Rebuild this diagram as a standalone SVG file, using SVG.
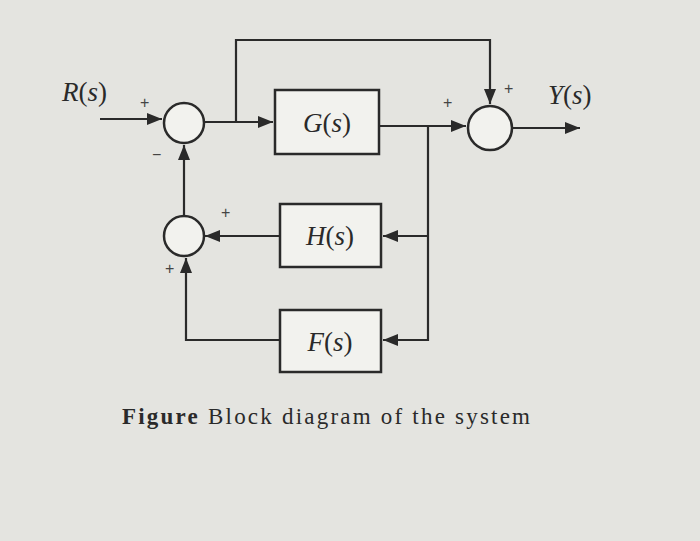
<svg xmlns="http://www.w3.org/2000/svg" width="700" height="541" viewBox="0 0 700 541">
<defs>
<marker id="a" viewBox="0 0 10 10" refX="10" refY="5" markerWidth="7" markerHeight="7" orient="auto"><path d="M0,1 L10,5 L0,9 z" fill="#2a2a2a"/></marker>
<style>
.l{fill:none;stroke:#2a2a2a;stroke-width:2.2}
.b{fill:#f2f2ee;stroke:#2a2a2a;stroke-width:2.5}
.c{fill:#f2f2ee;stroke:#2a2a2a;stroke-width:2.5}
.t{font-family:"Liberation Serif",serif;font-size:27px;fill:#2a2a2a}
.i{font-style:italic}
.s{font-family:"Liberation Sans",sans-serif;font-size:16px;fill:#444}
</style>
</defs>
<rect width="700" height="541" fill="#e4e4e0"/>
<g id="connectors">
<path class="l" d="M100,119 H162" marker-end="url(#a)"/>
<path class="l" d="M205,122 H273" marker-end="url(#a)"/>
<path class="l" d="M236,122 V40 H490 V104" marker-end="url(#a)"/>
<path class="l" d="M379,126 H466" marker-end="url(#a)"/>
<path class="l" d="M428,126 V340 H383" marker-end="url(#a)"/>
<path class="l" d="M428,236 H383" marker-end="url(#a)"/>
<path class="l" d="M280,236 H205" marker-end="url(#a)"/>
<path class="l" d="M184,216 V145" marker-end="url(#a)"/>
<path class="l" d="M280,340 H186 V258" marker-end="url(#a)"/>
<path class="l" d="M513,128 H580" marker-end="url(#a)"/>
</g>
<g id="sum1"><circle class="c" cx="184" cy="123" r="20"/></g>
<g id="sum2"><circle class="c" cx="490" cy="128" r="22"/></g>
<g id="sum3"><circle class="c" cx="184" cy="236" r="20"/></g>
<g id="G"><rect class="b" x="275" y="90" width="104" height="64"/><text class="t" x="327" y="132" text-anchor="middle"><tspan class="i">G</tspan>(<tspan class="i">s</tspan>)</text></g>
<g id="H"><rect class="b" x="280" y="204" width="101" height="63"/><text class="t" x="330" y="245" text-anchor="middle"><tspan class="i">H</tspan>(<tspan class="i">s</tspan>)</text></g>
<g id="F"><rect class="b" x="280" y="310" width="101" height="62"/><text class="t" x="330" y="351" text-anchor="middle"><tspan class="i">F</tspan>(<tspan class="i">s</tspan>)</text></g>
<g id="labels">
<text class="t" x="62" y="101"><tspan class="i">R</tspan>(<tspan class="i">s</tspan>)</text>
<text class="t" x="548" y="104"><tspan class="i">Y</tspan>(<tspan class="i">s</tspan>)</text>
<text class="s" x="140" y="108">+</text>
<text class="s" x="152" y="160">−</text>
<text class="s" x="443" y="108">+</text>
<text class="s" x="504" y="94">+</text>
<text class="s" x="221" y="218">+</text>
<text class="s" x="165" y="274">+</text>
<text x="122" y="424" font-family="Liberation Serif,serif" font-size="23" fill="#2a2a2a" textLength="408" lengthAdjust="spacing"><tspan font-weight="bold">Figure</tspan> Block diagram of the system</text>
</g>
</svg>
